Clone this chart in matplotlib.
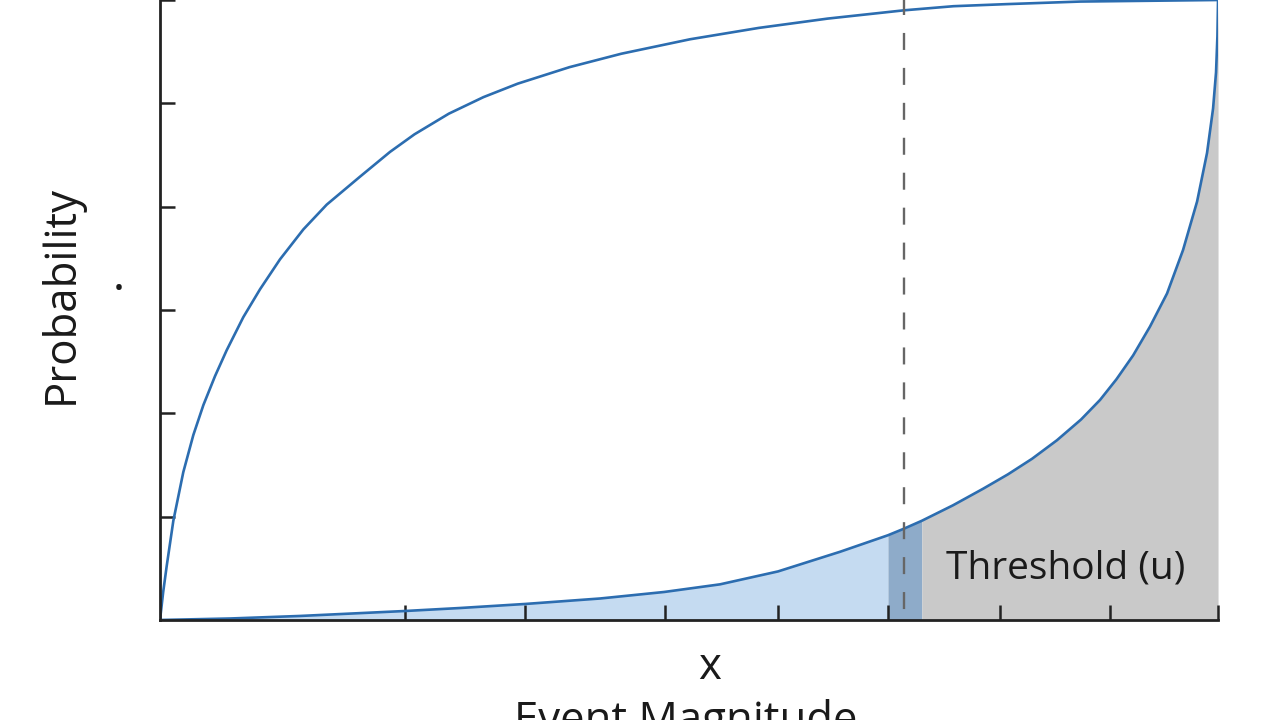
import numpy as np
import matplotlib.pyplot as plt

plt.rcParams['font.family'] = ['Open Sans', 'DejaVu Sans']

# upper curve (concave)
upper_x = [0, 0.03, 0.063, 0.126, 0.22, 0.315, 0.41, 0.52, 0.63, 0.787,
           0.945, 1.134, 1.355, 1.576, 1.89, 2.174, 2.405, 2.73, 3.057,
           3.38, 3.87, 4.36, 5.01, 5.66, 6.31, 7.03, 7.5, 8.0, 8.7, 10.0]
upper_y = [0, 0.27, 0.52, 0.96, 1.43, 1.79, 2.08, 2.36, 2.61, 2.93,
           3.20, 3.49, 3.78, 4.02, 4.29, 4.53, 4.70, 4.90, 5.06,
           5.19, 5.35, 5.48, 5.62, 5.73, 5.82, 5.90, 5.94, 5.96, 5.985, 6.0]

# lower curve (convex)
lower_x = [0, 0.662, 1.323, 2.316, 2.836, 3.45, 4.159, 4.764, 5.293, 5.841,
           6.427, 6.88, 7.023, 7.20, 7.495, 7.779, 8.015, 8.242, 8.478,
           8.705, 8.885, 9.04, 9.197, 9.357, 9.518, 9.669, 9.802, 9.896,
           9.953, 9.981, 9.994, 10.0]
lower_y = [0, 0.0145, 0.039, 0.087, 0.116, 0.155, 0.208, 0.271, 0.345, 0.47,
           0.66, 0.82, 0.88, 0.96, 1.11, 1.27, 1.41, 1.56, 1.74,
           1.94, 2.13, 2.33, 2.56, 2.84, 3.16, 3.58, 4.05, 4.52,
           4.95, 5.30, 5.65, 6.0]

x_ticks = [2.32, 3.45, 4.77, 5.84, 6.88, 7.94, 8.98, 10.0]
y_ticks = [1, 2, 3, 4, 5, 6]

threshold = 7.03
band_lo, band_hi = 6.88, 7.20

line_col = '#2c6db0'
txt_col = '#1a1a1a'

fig = plt.figure(figsize=(12.8, 7.2), dpi=100)
ax = fig.add_axes([0.125, 0.1389, 0.8266, 0.8611])

lx = np.array(lower_x)
ly = np.array(lower_y)
ax.fill_between(lx, 0, ly, where=lx <= band_lo, color='#c5dbf1', lw=0)
ax.fill_between(lx, 0, ly, where=(lx >= band_lo) & (lx <= band_hi),
                color='#8eabc9', lw=0)
ax.fill_between(lx, 0, ly, where=lx >= band_hi, color='#c9c9c9', lw=0)

ax.plot(upper_x, upper_y, color=line_col, lw=1.9, solid_joinstyle='round')
ax.plot(lower_x, lower_y, color=line_col, lw=1.9, solid_joinstyle='round')

# threshold line, drawn top to bottom
ax.plot([threshold, threshold], [6, 0], color='#666666', lw=1.7,
        ls=(0.85, (7.2, 7.6)))

ax.text(7.43, 0.5, 'Threshold (u)', fontsize=28, color=txt_col,
        va='center', ha='left')

ax.set_xlim(0, 10)
ax.set_ylim(0, 6)
ax.set_xticks(x_ticks)
ax.set_yticks(y_ticks)
ax.tick_params(direction='in', length=11, width=1.8, color='#222222',
               labelbottom=False, labelleft=False)
for s in ['top', 'right']:
    ax.spines[s].set_visible(False)
for s in ['left', 'bottom']:
    ax.spines[s].set_linewidth(2)
    ax.spines[s].set_color('#222222')
ax.patch.set_alpha(0)

fig.text(61 / 1280, 1 - 294 / 720, 'Probability', rotation=90,
         fontsize=31.5, ha='center', va='center', color=txt_col)
fig.text(119 / 1280, 1 - 290 / 720, '\u2022', fontsize=19,
         ha='center', va='center', color=txt_col)
fig.text(710 / 1280, 1 - 668 / 720, 'x', fontsize=31.5,
         ha='center', va='center', color=txt_col)
fig.text(686 / 1280, (720 - 733) / 720, 'Event Magnitude', fontsize=31.5,
         ha='center', va='baseline', color=txt_col)

fig.savefig('out.png', dpi=100)
